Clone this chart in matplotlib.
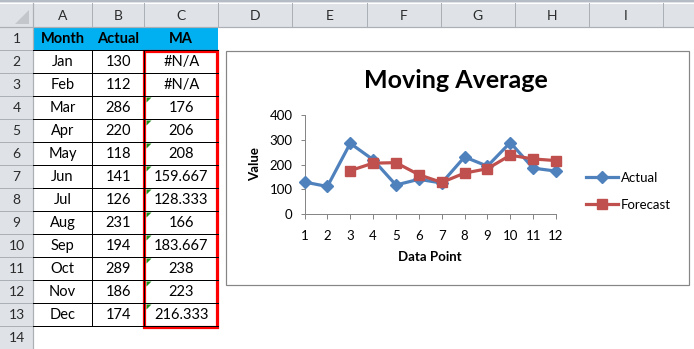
import matplotlib
matplotlib.use("Agg")
import matplotlib.pyplot as plt
from matplotlib.patches import Rectangle, Polygon
import numpy as np

plt.rcParams['font.family'] = ['Lato', 'DejaVu Sans']

# ---- data ----
months = ["Jan", "Feb", "Mar", "Apr", "May", "Jun", "Jul", "Aug", "Sep", "Oct", "Nov", "Dec"]
actual = [130, 112, 286, 220, 118, 141, 126, 231, 194, 289, 186, 174]
ma_text = ["#N/A", "#N/A", "176", "206", "208", "159.667", "128.333", "166",
           "183.667", "238", "223", "216.333"]
forecast = [np.nan, np.nan, 176, 206, 208, 159.667, 128.333, 166, 183.667, 238, 223, 216.333]
data_points = list(range(1, 13))
headers = ["Month", "Actual", "MA"]
col_letters = ["A", "B", "C", "D", "E", "F", "G", "H", "I"]
yticks = [0, 100, 200, 300, 400]

W, H = 694, 349
fig = plt.figure(figsize=(W / 100, H / 100), dpi=100)
fig.patch.set_facecolor("white")
ax0 = fig.add_axes([0, 0, 1, 1])
ax0.set_xlim(0, W)
ax0.set_ylim(H, 0)
ax0.axis("off")

px = 0.72  # 1 px in points
hdr_bg = "#DFE3E8"
hdr_line = "#ABB0B6"

# column boundaries
col_edges = [33, 92, 144.3, 218.3, 292.3, 366.7, 440.7, 514.7, 588.7, 662.7, 736]
row_top = 27.3
row_h = 23.0

# header strip
ax0.add_patch(Rectangle((0, 0), W, row_top, facecolor=hdr_bg, edgecolor="none"))
ax0.plot([0, W], [1.2, 1.2], color="#A9B0BA", lw=1.5 * px)
ax0.plot([0, W], [2.6, 2.6], color="white", lw=1 * px)
ax0.plot([0, W], [row_top, row_top], color=hdr_line, lw=1.2 * px)
# row header strip
ax0.add_patch(Rectangle((0, row_top), col_edges[0], H - row_top, facecolor=hdr_bg, edgecolor="none"))
ax0.plot([col_edges[0], col_edges[0]], [3, H], color=hdr_line, lw=1.2 * px)
for xe in col_edges[1:]:
    ax0.plot([xe, xe], [3, row_top], color=hdr_line, lw=1 * px)
for i, letter in enumerate(col_letters):
    ax0.text((col_edges[i] + col_edges[i + 1]) / 2, 15.5, letter, ha="center", va="center",
             fontsize=10, color="#2A2A2A")
# corner triangle
ax0.add_patch(Polygon([[29, 10], [29, 24], [15, 24]], closed=True, facecolor="#C3C7CC", edgecolor="none"))

for r in range(14):
    y0 = row_top + r * row_h
    ax0.plot([0, col_edges[0]], [y0 + row_h, y0 + row_h], color=hdr_line, lw=1 * px)
    ax0.text(16.5, y0 + row_h / 2 + 0.5, str(r + 1), ha="center", va="center", fontsize=10, color="#2A2A2A")

# header row fill
ax0.add_patch(Rectangle((col_edges[0], row_top), col_edges[3] - col_edges[0], row_h,
                        facecolor="#00B0F0", edgecolor="none"))
for i, h in enumerate(headers):
    ax0.text((col_edges[i] + col_edges[i + 1]) / 2, row_top + row_h / 2 + 0.5, h, ha="center",
             va="center", fontsize=10.5, fontweight="bold", color="black")

# table borders
tbl_bottom = row_top + 13 * row_h
for r in range(1, 14):
    yb = row_top + r * row_h
    ax0.plot([col_edges[0], col_edges[3]], [yb, yb], color="black", lw=1 * px)
for xe in col_edges[1:3]:
    ax0.plot([xe, xe], [row_top + row_h, tbl_bottom], color="black", lw=1 * px)

# cell values
for r in range(12):
    yc = row_top + (r + 1) * row_h + row_h / 2 + 0.5
    ax0.text((col_edges[0] + col_edges[1]) / 2, yc, months[r], ha="center", va="center", fontsize=10.5)
    ax0.text((col_edges[1] + col_edges[2]) / 2, yc, str(actual[r]), ha="center", va="center", fontsize=10.5)
    ax0.text((col_edges[2] + col_edges[3]) / 2, yc, ma_text[r], ha="center", va="center", fontsize=10.5)
    if r >= 2:
        yt = row_top + (r + 1) * row_h + 1.2
        ax0.add_patch(Polygon([[146.5, yt], [151.5, yt], [146.5, yt + 5]], closed=True,
                              facecolor="#1F8F1F", edgecolor="none"))

# red outline around C2:C13
ax0.add_patch(Rectangle((144.5, 51.4), 217.3 - 144.5, 326.5 - 51.4, facecolor="none",
                        edgecolor="#FF0000", lw=3.2 * px, joinstyle="miter"))

# chart area
ax0.add_patch(Rectangle((225.7, 51), 689.3 - 225.7, 285 - 51, facecolor="white",
                        edgecolor="#868686", lw=1.2 * px))
ax0.text(455.5, 80, "Moving Average", ha="center", va="center", fontsize=18, fontweight="bold")
ax0.text(255, 164, "Value", ha="center", va="center", fontsize=9.5, fontweight="bold", rotation=90)
ax0.text(430, 257, "Data Point", ha="center", va="center", fontsize=9.5, fontweight="bold")

# plot axes
x_left, x_right = 304.5, 556
y_zero, y_top = 214.3, 115
ax = fig.add_axes([x_left / W, (H - y_zero) / H, (x_right - x_left) / W, (y_zero - y_top) / H])
ax.set_facecolor("none")
ax.plot(data_points, actual, color="#4F81BD", lw=2.3, marker="D", markersize=6.5,
        label="Actual", clip_on=False, zorder=3)
ax.plot(data_points, forecast, color="#C0504D", lw=2.3, marker="s", markersize=7.8,
        label="Forecast", clip_on=False, zorder=4)
ax.set_xlim(1, 12)
ax.set_ylim(0, 400)
ax.set_xticks(data_points)
ax.set_yticks(yticks)
for s in ["top", "right"]:
    ax.spines[s].set_visible(False)
for s in ["left", "bottom"]:
    ax.spines[s].set_color("#868686")
    ax.spines[s].set_linewidth(1 * px)
ax.tick_params(axis="both", direction="out", length=4.5 * px, width=1 * px, colors="#868686",
               labelcolor="black", labelsize=9.5)
ax.tick_params(axis="x", pad=8.3)
ax.tick_params(axis="y", pad=5.5)

leg = ax.legend(loc="center left", bbox_to_anchor=(586 / W, (H - 191.5) / H),
                bbox_transform=fig.transFigure, frameon=False, fontsize=9.5,
                handlelength=2.4, handletextpad=0.25, labelspacing=1.15, borderpad=0,
                borderaxespad=0)

fig.savefig("out.png", dpi=100)
